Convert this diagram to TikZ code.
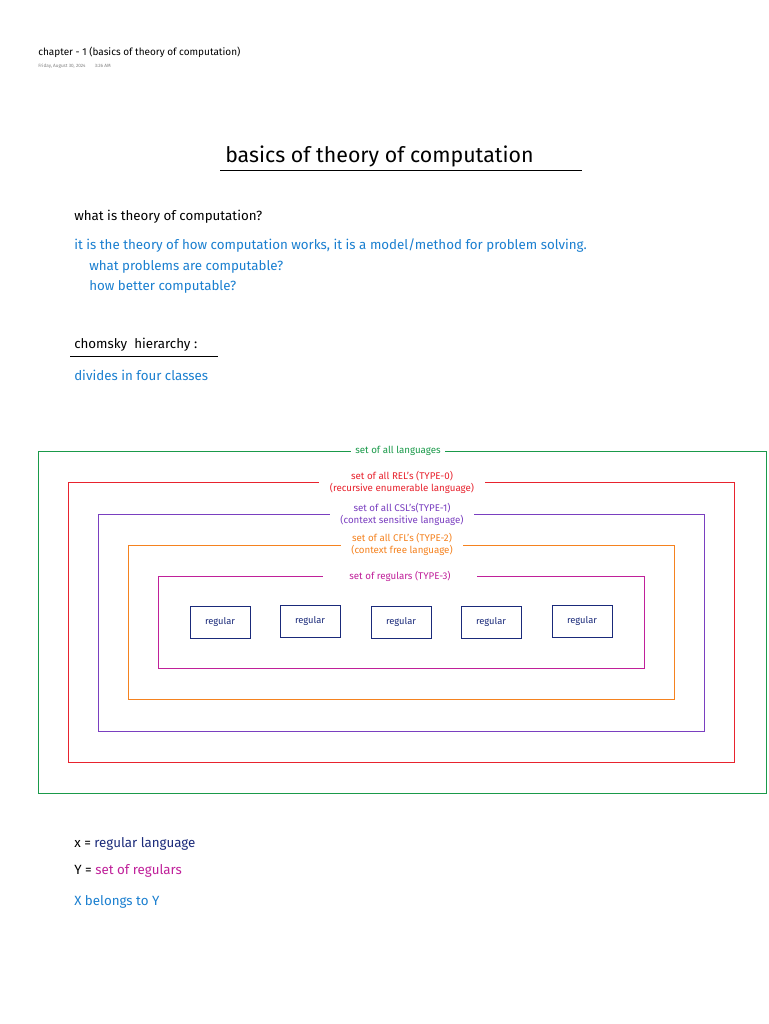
\documentclass[tikz,border=0pt]{standalone}
\usepackage{fontspec}
\setmainfont{Fira Sans}
\definecolor{cblue}{HTML}{1A7FD0}
\definecolor{cgreen}{HTML}{1A9A4A}
\definecolor{cred}{HTML}{E8232E}
\definecolor{cpurple}{HTML}{7A3FC0}
\definecolor{corange}{HTML}{F5821F}
\definecolor{cmag}{HTML}{C0209A}
\definecolor{cnavy}{HTML}{1A2A7A}
\begin{document}
\begin{tikzpicture}[x=0.75pt,y=-0.75pt,
  lbl/.style={fill=white,inner ysep=1pt,inner xsep=8pt,font=\fontsize{7.3}{9}\selectfont,align=center},
  reg/.style={draw=cnavy,text=cnavy,minimum width=45pt,minimum height=24pt,font=\fontsize{7}{8}\selectfont,inner sep=0pt},
  txt/.style={anchor=west,inner sep=0pt}]
\useasboundingbox[fill=white] (0,0) rectangle (768,1024);
\node[txt,font=\fontsize{7.5}{9}\selectfont] (ch) at (38,52) {chapter - 1 (basics of theory of computation)};
\node[txt,text=gray,font=\fontsize{3.5}{4}\selectfont] (dt) at (38,66) {Friday, August 30, 2024\quad\quad 3:26 AM};
\node[txt,font=\fontsize{16}{19}\selectfont] (ti) at (225,156) {basics of theory of computation};
\draw (220,170) -- (582,170);
\node[txt,font=\fontsize{10}{12}\selectfont] (q) at (74,217) {what is theory of computation?};
\node[txt,text=cblue,font=\fontsize{10}{12}\selectfont] (a1) at (74,246) {it is the theory of how computation works, it is a model/method for problem solving.};
\node[txt,text=cblue,font=\fontsize{10}{12}\selectfont] (a2) at (89,267) {what problems are computable?};
\node[txt,text=cblue,font=\fontsize{10}{12}\selectfont] (a3) at (89,287) {how better computable?};
\node[txt,font=\fontsize{10}{12}\selectfont] (ch2) at (74,345) {chomsky\ \ hierarchy :};
\draw (70,356) -- (218,356);
\node[txt,text=cblue,font=\fontsize{10}{12}\selectfont] (dv) at (74,375) {divides in four classes};
\draw[cgreen] (38,451) rectangle (766,793);
\draw[cred] (68,482) rectangle (734,762);
\draw[cpurple] (98,514) rectangle (704,731);
\draw[corange] (128,545) rectangle (674,699);
\draw[cmag] (158,576) rectangle (644,668);
\node[lbl,text=cgreen,inner xsep=3pt] (l0) at (398,451) {set of all languages};
\node[lbl,text=cred] (l1) at (402,482) {set of all REL's (TYPE-0)\\(recursive enumerable language)};
\node[lbl,text=cpurple] (l2) at (402,514) {set of all CSL's(TYPE-1)\\(context sensitive language)};
\node[lbl,text=corange] (l3) at (402,544) {set of all CFL's (TYPE-2)\\(context free language)};
\node[lbl,text=cmag,inner xsep=20pt] (l4) at (400,576) {set of regulars (TYPE-3)};
\node[reg] (r1) at (220,622) {regular};
\node[reg] (r2) at (310,621) {regular};
\node[reg] (r3) at (401,622) {regular};
\node[reg] (r4) at (491,622) {regular};
\node[reg] (r5) at (582,621) {regular};
\node[txt,font=\fontsize{10}{12}\selectfont] (x) at (74,844) {x = \textcolor{cnavy}{regular language}};
\node[txt,font=\fontsize{10}{12}\selectfont] (y) at (74,871) {Y = \textcolor{cmag}{set of regulars}};
\node[txt,text=cblue,font=\fontsize{10}{12}\selectfont] (z) at (74,902) {X belongs to Y};
\end{tikzpicture}
\end{document}
